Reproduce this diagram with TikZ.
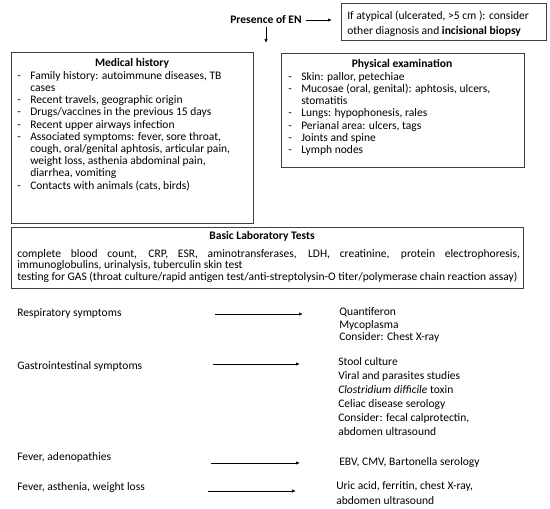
\documentclass[tikz,border=0pt]{standalone}
\usepackage{fontspec}
\setmainfont{Carlito}
\usetikzlibrary{arrows.meta,positioning}

\tikzset{
  box/.style={draw=black!75,line width=0.6pt,anchor=north west,inner sep=0pt},
  txt/.style={anchor=north west,inner sep=0pt,align=left,font=\fontsize{8.65}{9.15}\selectfont},
  lbl/.style={anchor=west,inner sep=0pt,font=\fontsize{8.65}{9.15}\selectfont},
  ttl/.style={inner sep=0pt,font=\fontsize{8.65}{9.15}\selectfont\bfseries},
  arr/.style={-{Latex[length=3pt,width=2.4pt]},line width=0.5pt},
}
\newcommand{\itm}[1]{\makebox[9.75pt][l]{-}#1}
\newcommand{\cnt}[1]{\hspace*{9.75pt}#1}

\begin{document}
\begin{tikzpicture}[x=0.75pt,y=-0.75pt]
  \useasboundingbox (0,0) rectangle (550,509);

  % top line
  \node[ttl] (pen) at (266,20) {Presence of EN};
  \node[box,minimum width=153.75pt,minimum height=27.75pt] (atypbox) at (341,3) {};
  \node[txt,font=\fontsize{8.65}{11.25}\selectfont] (atyp) at (347,11) {If atypical (ulcerated, >5 cm ): consider\\other diagnosis and \textbf{incisional biopsy}};
  \coordinate (pentip) at (332,20);
  \coordinate (pendown) at (266,43);
  \draw[arr] ([xshift=3pt]pen.east) -- (pentip);
  \draw[arr] ([yshift=-2pt]pen.south) -- (pendown);

  % medical history
  \node[box,minimum width=181.5pt,minimum height=128.25pt] (mhbox) at (11,52) {};
  \node[ttl] (mhttl) at (132,63) {Medical history};
  \node[txt] (mh) at (17,71) {\itm{Family history: autoimmune diseases, TB}\\
    \cnt{cases}\\
    \itm{Recent travels, geographic origin}\\
    \itm{Drugs/vaccines in the previous 15 days}\\
    \itm{Recent upper airways infection}\\
    \itm{Associated symptoms: fever, sore throat,}\\
    \cnt{cough, oral/genital aphtosis, articular pain,}\\
    \cnt{weight loss, asthenia abdominal pain,}\\
    \cnt{diarrhea, vomiting}\\
    \itm{Contacts with animals (cats, birds)}};

  % physical examination
  \node[box,minimum width=182.25pt,minimum height=85.5pt] (pebox) at (281,53) {};
  \node[ttl] (pettl) at (402,64) {Physical examination};
  \node[txt] (pe) at (288,72) {\itm{Skin: pallor, petechiae}\\
    \itm{Mucosae (oral, genital): aphtosis, ulcers,}\\
    \cnt{stomatitis}\\
    \itm{Lungs: hypophonesis, rales}\\
    \itm{Perianal area: ulcers, tags}\\
    \itm{Joints and spine}\\
    \itm{Lymph nodes}};

  % laboratory tests
  \node[box,minimum width=384pt,minimum height=45.75pt] (labbox) at (11,227) {};
  \node[ttl] (labttl) at (262,236) {Basic Laboratory Tests};
  \node[txt,align=justify,text width=377pt,font=\fontsize{8.65}{8.4}\selectfont] (lab) at (17,249.5) {complete blood count, CRP, ESR, aminotransferases, LDH, creatinine, protein electrophoresis,\linebreak
    immunoglobulins, urinalysis, tuberculin skin test\\
    testing for GAS (throat culture/rapid antigen test/anti-streptolysin-O titer/polymerase chain reaction assay)};

  % symptoms and further tests
  \node[lbl] (resp) at (17,313) {Respiratory symptoms};
  \node[lbl] (gast) at (17,366) {Gastrointestinal symptoms};
  \node[lbl] (fev) at (17,457) {Fever, adenopathies};
  \node[lbl] (asth) at (17,487) {Fever, asthenia, weight loss};

  \node[txt,font=\fontsize{8.65}{9.3}\selectfont] (resptx) at (339,307.5) {Quantiferon\\Mycoplasma\\Consider: Chest X-ray};
  \node[txt,font=\fontsize{8.65}{10.5}\selectfont] (gasttx) at (338,357) {Stool culture\\Viral and parasites studies\\\textit{Clostridium difficile} toxin\\Celiac disease serology\\Consider: fecal calprotectin,\\abdomen ultrasound};
  \node[lbl] (fevtx) at (339,462) {EBV, CMV, Bartonella serology};
  \node[txt,font=\fontsize{8.65}{11.25}\selectfont] (asthtx) at (336,481) {Uric acid, ferritin, chest X-ray,\\abdomen ultrasound};

  \coordinate (respA) at (215,314);  \coordinate (respB) at (303,314);
  \coordinate (gastA) at (213,364);  \coordinate (gastB) at (300,364);
  \coordinate (fevA) at (211,463);   \coordinate (fevB) at (300,463);
  \coordinate (asthA) at (208,491);  \coordinate (asthB) at (296,491);

  \foreach \from/\to in {respA/respB,gastA/gastB,fevA/fevB,asthA/asthB}
    \draw[arr] (\from) -- (\to);
\end{tikzpicture}
\end{document}
